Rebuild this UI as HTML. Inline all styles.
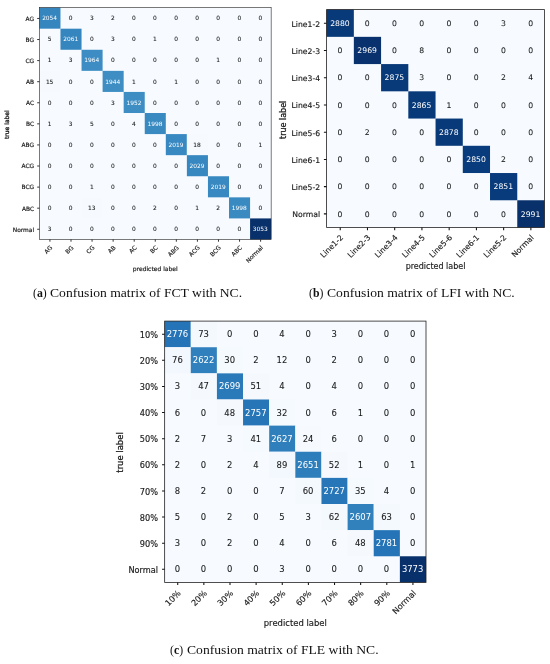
<!DOCTYPE html>
<html><head><meta charset="utf-8"><title>Confusion matrices</title>
<style>
html,body{margin:0;padding:0;background:#fff}
body{width:550px;height:664px;position:relative;overflow:hidden}
svg{position:absolute;left:0;top:0;font-family:"DejaVu Sans","Liberation Sans",sans-serif}
.cap{position:absolute;font-family:"Liberation Serif",serif;font-size:12.4px;color:#111;transform:scaleX(1.09);white-space:nowrap;line-height:1;transform-origin:0 0}
</style></head><body>
<svg width="550" height="664" viewBox="0 0 550 664">
<rect x="39.40" y="7.60" width="231.75" height="231.90" fill="#f7fbff"/>
<rect x="39.40" y="7.60" width="21.07" height="21.08" fill="#3585bf"/>
<rect x="60.47" y="28.68" width="21.07" height="21.08" fill="#3585bf"/>
<rect x="81.54" y="49.76" width="21.07" height="21.08" fill="#3d8dc4"/>
<rect x="39.40" y="70.85" width="21.07" height="21.08" fill="#f6faff"/>
<rect x="102.60" y="70.85" width="21.07" height="21.08" fill="#3e8ec4"/>
<rect x="123.67" y="91.93" width="21.07" height="21.08" fill="#3e8ec4"/>
<rect x="144.74" y="113.01" width="21.07" height="21.08" fill="#3a8ac2"/>
<rect x="165.81" y="134.09" width="21.07" height="21.08" fill="#3888c1"/>
<rect x="186.88" y="134.09" width="21.07" height="21.08" fill="#f6faff"/>
<rect x="186.88" y="155.17" width="21.07" height="21.08" fill="#3787c0"/>
<rect x="207.95" y="176.25" width="21.07" height="21.08" fill="#3888c1"/>
<rect x="81.54" y="197.34" width="21.07" height="21.08" fill="#f6faff"/>
<rect x="229.01" y="197.34" width="21.07" height="21.08" fill="#3a8ac2"/>
<rect x="250.08" y="218.42" width="21.07" height="21.08" fill="#08306b"/>
<g font-size="5.9" text-anchor="middle" stroke-width="0.090">
<text x="49.63" y="20.26" fill="#fff">2054</text>
<text x="70.70" y="20.26" fill="#1a1a1a" stroke="#1a1a1a">0</text>
<text x="91.77" y="20.26" fill="#1a1a1a" stroke="#1a1a1a">3</text>
<text x="112.84" y="20.26" fill="#1a1a1a" stroke="#1a1a1a">2</text>
<text x="133.91" y="20.26" fill="#1a1a1a" stroke="#1a1a1a">0</text>
<text x="154.97" y="20.26" fill="#1a1a1a" stroke="#1a1a1a">0</text>
<text x="176.04" y="20.26" fill="#1a1a1a" stroke="#1a1a1a">0</text>
<text x="197.11" y="20.26" fill="#1a1a1a" stroke="#1a1a1a">0</text>
<text x="218.18" y="20.26" fill="#1a1a1a" stroke="#1a1a1a">0</text>
<text x="239.25" y="20.26" fill="#1a1a1a" stroke="#1a1a1a">0</text>
<text x="260.32" y="20.26" fill="#1a1a1a" stroke="#1a1a1a">0</text>
<text x="49.63" y="41.35" fill="#1a1a1a" stroke="#1a1a1a">5</text>
<text x="70.70" y="41.35" fill="#fff">2061</text>
<text x="91.77" y="41.35" fill="#1a1a1a" stroke="#1a1a1a">0</text>
<text x="112.84" y="41.35" fill="#1a1a1a" stroke="#1a1a1a">3</text>
<text x="133.91" y="41.35" fill="#1a1a1a" stroke="#1a1a1a">0</text>
<text x="154.97" y="41.35" fill="#1a1a1a" stroke="#1a1a1a">1</text>
<text x="176.04" y="41.35" fill="#1a1a1a" stroke="#1a1a1a">0</text>
<text x="197.11" y="41.35" fill="#1a1a1a" stroke="#1a1a1a">0</text>
<text x="218.18" y="41.35" fill="#1a1a1a" stroke="#1a1a1a">0</text>
<text x="239.25" y="41.35" fill="#1a1a1a" stroke="#1a1a1a">0</text>
<text x="260.32" y="41.35" fill="#1a1a1a" stroke="#1a1a1a">0</text>
<text x="49.63" y="62.43" fill="#1a1a1a" stroke="#1a1a1a">1</text>
<text x="70.70" y="62.43" fill="#1a1a1a" stroke="#1a1a1a">3</text>
<text x="91.77" y="62.43" fill="#fff">1964</text>
<text x="112.84" y="62.43" fill="#1a1a1a" stroke="#1a1a1a">0</text>
<text x="133.91" y="62.43" fill="#1a1a1a" stroke="#1a1a1a">0</text>
<text x="154.97" y="62.43" fill="#1a1a1a" stroke="#1a1a1a">0</text>
<text x="176.04" y="62.43" fill="#1a1a1a" stroke="#1a1a1a">0</text>
<text x="197.11" y="62.43" fill="#1a1a1a" stroke="#1a1a1a">0</text>
<text x="218.18" y="62.43" fill="#1a1a1a" stroke="#1a1a1a">1</text>
<text x="239.25" y="62.43" fill="#1a1a1a" stroke="#1a1a1a">0</text>
<text x="260.32" y="62.43" fill="#1a1a1a" stroke="#1a1a1a">0</text>
<text x="49.63" y="83.51" fill="#1a1a1a" stroke="#1a1a1a">15</text>
<text x="70.70" y="83.51" fill="#1a1a1a" stroke="#1a1a1a">0</text>
<text x="91.77" y="83.51" fill="#1a1a1a" stroke="#1a1a1a">0</text>
<text x="112.84" y="83.51" fill="#fff">1944</text>
<text x="133.91" y="83.51" fill="#1a1a1a" stroke="#1a1a1a">1</text>
<text x="154.97" y="83.51" fill="#1a1a1a" stroke="#1a1a1a">0</text>
<text x="176.04" y="83.51" fill="#1a1a1a" stroke="#1a1a1a">1</text>
<text x="197.11" y="83.51" fill="#1a1a1a" stroke="#1a1a1a">0</text>
<text x="218.18" y="83.51" fill="#1a1a1a" stroke="#1a1a1a">0</text>
<text x="239.25" y="83.51" fill="#1a1a1a" stroke="#1a1a1a">0</text>
<text x="260.32" y="83.51" fill="#1a1a1a" stroke="#1a1a1a">0</text>
<text x="49.63" y="104.59" fill="#1a1a1a" stroke="#1a1a1a">0</text>
<text x="70.70" y="104.59" fill="#1a1a1a" stroke="#1a1a1a">0</text>
<text x="91.77" y="104.59" fill="#1a1a1a" stroke="#1a1a1a">0</text>
<text x="112.84" y="104.59" fill="#1a1a1a" stroke="#1a1a1a">3</text>
<text x="133.91" y="104.59" fill="#fff">1952</text>
<text x="154.97" y="104.59" fill="#1a1a1a" stroke="#1a1a1a">0</text>
<text x="176.04" y="104.59" fill="#1a1a1a" stroke="#1a1a1a">0</text>
<text x="197.11" y="104.59" fill="#1a1a1a" stroke="#1a1a1a">0</text>
<text x="218.18" y="104.59" fill="#1a1a1a" stroke="#1a1a1a">0</text>
<text x="239.25" y="104.59" fill="#1a1a1a" stroke="#1a1a1a">0</text>
<text x="260.32" y="104.59" fill="#1a1a1a" stroke="#1a1a1a">0</text>
<text x="49.63" y="125.67" fill="#1a1a1a" stroke="#1a1a1a">1</text>
<text x="70.70" y="125.67" fill="#1a1a1a" stroke="#1a1a1a">3</text>
<text x="91.77" y="125.67" fill="#1a1a1a" stroke="#1a1a1a">5</text>
<text x="112.84" y="125.67" fill="#1a1a1a" stroke="#1a1a1a">0</text>
<text x="133.91" y="125.67" fill="#1a1a1a" stroke="#1a1a1a">4</text>
<text x="154.97" y="125.67" fill="#fff">1998</text>
<text x="176.04" y="125.67" fill="#1a1a1a" stroke="#1a1a1a">0</text>
<text x="197.11" y="125.67" fill="#1a1a1a" stroke="#1a1a1a">0</text>
<text x="218.18" y="125.67" fill="#1a1a1a" stroke="#1a1a1a">0</text>
<text x="239.25" y="125.67" fill="#1a1a1a" stroke="#1a1a1a">0</text>
<text x="260.32" y="125.67" fill="#1a1a1a" stroke="#1a1a1a">0</text>
<text x="49.63" y="146.76" fill="#1a1a1a" stroke="#1a1a1a">0</text>
<text x="70.70" y="146.76" fill="#1a1a1a" stroke="#1a1a1a">0</text>
<text x="91.77" y="146.76" fill="#1a1a1a" stroke="#1a1a1a">0</text>
<text x="112.84" y="146.76" fill="#1a1a1a" stroke="#1a1a1a">0</text>
<text x="133.91" y="146.76" fill="#1a1a1a" stroke="#1a1a1a">0</text>
<text x="154.97" y="146.76" fill="#1a1a1a" stroke="#1a1a1a">0</text>
<text x="176.04" y="146.76" fill="#fff">2019</text>
<text x="197.11" y="146.76" fill="#1a1a1a" stroke="#1a1a1a">18</text>
<text x="218.18" y="146.76" fill="#1a1a1a" stroke="#1a1a1a">0</text>
<text x="239.25" y="146.76" fill="#1a1a1a" stroke="#1a1a1a">0</text>
<text x="260.32" y="146.76" fill="#1a1a1a" stroke="#1a1a1a">1</text>
<text x="49.63" y="167.84" fill="#1a1a1a" stroke="#1a1a1a">0</text>
<text x="70.70" y="167.84" fill="#1a1a1a" stroke="#1a1a1a">0</text>
<text x="91.77" y="167.84" fill="#1a1a1a" stroke="#1a1a1a">0</text>
<text x="112.84" y="167.84" fill="#1a1a1a" stroke="#1a1a1a">0</text>
<text x="133.91" y="167.84" fill="#1a1a1a" stroke="#1a1a1a">0</text>
<text x="154.97" y="167.84" fill="#1a1a1a" stroke="#1a1a1a">0</text>
<text x="176.04" y="167.84" fill="#1a1a1a" stroke="#1a1a1a">0</text>
<text x="197.11" y="167.84" fill="#fff">2029</text>
<text x="218.18" y="167.84" fill="#1a1a1a" stroke="#1a1a1a">0</text>
<text x="239.25" y="167.84" fill="#1a1a1a" stroke="#1a1a1a">0</text>
<text x="260.32" y="167.84" fill="#1a1a1a" stroke="#1a1a1a">0</text>
<text x="49.63" y="188.92" fill="#1a1a1a" stroke="#1a1a1a">0</text>
<text x="70.70" y="188.92" fill="#1a1a1a" stroke="#1a1a1a">0</text>
<text x="91.77" y="188.92" fill="#1a1a1a" stroke="#1a1a1a">1</text>
<text x="112.84" y="188.92" fill="#1a1a1a" stroke="#1a1a1a">0</text>
<text x="133.91" y="188.92" fill="#1a1a1a" stroke="#1a1a1a">0</text>
<text x="154.97" y="188.92" fill="#1a1a1a" stroke="#1a1a1a">0</text>
<text x="176.04" y="188.92" fill="#1a1a1a" stroke="#1a1a1a">0</text>
<text x="197.11" y="188.92" fill="#1a1a1a" stroke="#1a1a1a">0</text>
<text x="218.18" y="188.92" fill="#fff">2019</text>
<text x="239.25" y="188.92" fill="#1a1a1a" stroke="#1a1a1a">0</text>
<text x="260.32" y="188.92" fill="#1a1a1a" stroke="#1a1a1a">0</text>
<text x="49.63" y="210.00" fill="#1a1a1a" stroke="#1a1a1a">0</text>
<text x="70.70" y="210.00" fill="#1a1a1a" stroke="#1a1a1a">0</text>
<text x="91.77" y="210.00" fill="#1a1a1a" stroke="#1a1a1a">13</text>
<text x="112.84" y="210.00" fill="#1a1a1a" stroke="#1a1a1a">0</text>
<text x="133.91" y="210.00" fill="#1a1a1a" stroke="#1a1a1a">0</text>
<text x="154.97" y="210.00" fill="#1a1a1a" stroke="#1a1a1a">2</text>
<text x="176.04" y="210.00" fill="#1a1a1a" stroke="#1a1a1a">0</text>
<text x="197.11" y="210.00" fill="#1a1a1a" stroke="#1a1a1a">1</text>
<text x="218.18" y="210.00" fill="#1a1a1a" stroke="#1a1a1a">2</text>
<text x="239.25" y="210.00" fill="#fff">1998</text>
<text x="260.32" y="210.00" fill="#1a1a1a" stroke="#1a1a1a">0</text>
<text x="49.63" y="231.08" fill="#1a1a1a" stroke="#1a1a1a">3</text>
<text x="70.70" y="231.08" fill="#1a1a1a" stroke="#1a1a1a">0</text>
<text x="91.77" y="231.08" fill="#1a1a1a" stroke="#1a1a1a">0</text>
<text x="112.84" y="231.08" fill="#1a1a1a" stroke="#1a1a1a">0</text>
<text x="133.91" y="231.08" fill="#1a1a1a" stroke="#1a1a1a">0</text>
<text x="154.97" y="231.08" fill="#1a1a1a" stroke="#1a1a1a">0</text>
<text x="176.04" y="231.08" fill="#1a1a1a" stroke="#1a1a1a">0</text>
<text x="197.11" y="231.08" fill="#1a1a1a" stroke="#1a1a1a">0</text>
<text x="218.18" y="231.08" fill="#1a1a1a" stroke="#1a1a1a">0</text>
<text x="239.25" y="231.08" fill="#1a1a1a" stroke="#1a1a1a">0</text>
<text x="260.32" y="231.08" fill="#fff">3053</text>
</g>
<rect x="39.40" y="7.60" width="231.75" height="231.90" fill="none" stroke="#222" stroke-width="0.6"/>
<path d="M37.20 18.44H39.40M49.93 239.50V241.70M37.20 39.52H39.40M71.00 239.50V241.70M37.20 60.60H39.40M92.07 239.50V241.70M37.20 81.69H39.40M113.14 239.50V241.70M37.20 102.77H39.40M134.21 239.50V241.70M37.20 123.85H39.40M155.27 239.50V241.70M37.20 144.93H39.40M176.34 239.50V241.70M37.20 166.01H39.40M197.41 239.50V241.70M37.20 187.10H39.40M218.48 239.50V241.70M37.20 208.18H39.40M239.55 239.50V241.70M37.20 229.26H39.40M260.62 239.50V241.70" stroke="#111" stroke-width="0.85" fill="none"/>
<g font-size="5.9" fill="#1a1a1a" stroke="#1a1a1a" stroke-width="0.18">
<text x="34.10" y="20.76" text-anchor="end">AG</text>
<text transform="translate(52.81 248.14) rotate(-45)" text-anchor="end">AG</text>
<text x="34.10" y="41.85" text-anchor="end">BG</text>
<text transform="translate(73.88 248.14) rotate(-45)" text-anchor="end">BG</text>
<text x="34.10" y="62.93" text-anchor="end">CG</text>
<text transform="translate(94.95 248.14) rotate(-45)" text-anchor="end">CG</text>
<text x="34.10" y="84.01" text-anchor="end">AB</text>
<text transform="translate(116.01 248.14) rotate(-45)" text-anchor="end">AB</text>
<text x="34.10" y="105.09" text-anchor="end">AC</text>
<text transform="translate(137.08 248.14) rotate(-45)" text-anchor="end">AC</text>
<text x="34.10" y="126.17" text-anchor="end">BC</text>
<text transform="translate(158.15 248.14) rotate(-45)" text-anchor="end">BC</text>
<text x="34.10" y="147.26" text-anchor="end">ABG</text>
<text transform="translate(179.22 248.14) rotate(-45)" text-anchor="end">ABG</text>
<text x="34.10" y="168.34" text-anchor="end">ACG</text>
<text transform="translate(200.29 248.14) rotate(-45)" text-anchor="end">ACG</text>
<text x="34.10" y="189.42" text-anchor="end">BCG</text>
<text transform="translate(221.35 248.14) rotate(-45)" text-anchor="end">BCG</text>
<text x="34.10" y="210.50" text-anchor="end">ABC</text>
<text transform="translate(242.42 248.14) rotate(-45)" text-anchor="end">ABC</text>
<text x="34.10" y="231.58" text-anchor="end">Normal</text>
<text transform="translate(263.49 248.14) rotate(-45)" text-anchor="end">Normal</text>
</g>
<text font-size="6.0" fill="#1a1a1a" stroke="#1a1a1a" stroke-width="0.18" text-anchor="middle" x="155.27" y="270.6">predicted label</text>
<text font-size="6.0" fill="#1a1a1a" stroke="#1a1a1a" stroke-width="0.324" text-anchor="middle" transform="translate(9.3 124.65) rotate(-90)">true label</text>
<rect x="326.60" y="9.60" width="217.90" height="217.90" fill="#f7fbff"/>
<rect x="326.60" y="9.60" width="27.24" height="27.24" fill="#083979"/>
<rect x="353.84" y="36.84" width="27.24" height="27.24" fill="#08316d"/>
<rect x="381.08" y="64.08" width="27.24" height="27.24" fill="#083979"/>
<rect x="408.31" y="91.31" width="27.24" height="27.24" fill="#083a7a"/>
<rect x="435.55" y="118.55" width="27.24" height="27.24" fill="#083979"/>
<rect x="462.79" y="145.79" width="27.24" height="27.24" fill="#083c7d"/>
<rect x="490.02" y="173.03" width="27.24" height="27.24" fill="#083b7c"/>
<rect x="517.26" y="200.26" width="27.24" height="27.24" fill="#08306b"/>
<g font-size="7.7" text-anchor="middle" stroke-width="0.075">
<text x="339.92" y="25.99" fill="#fff">2880</text>
<text x="367.16" y="25.99" fill="#1a1a1a" stroke="#1a1a1a">0</text>
<text x="394.39" y="25.99" fill="#1a1a1a" stroke="#1a1a1a">0</text>
<text x="421.63" y="25.99" fill="#1a1a1a" stroke="#1a1a1a">0</text>
<text x="448.87" y="25.99" fill="#1a1a1a" stroke="#1a1a1a">0</text>
<text x="476.11" y="25.99" fill="#1a1a1a" stroke="#1a1a1a">0</text>
<text x="503.34" y="25.99" fill="#1a1a1a" stroke="#1a1a1a">3</text>
<text x="530.58" y="25.99" fill="#1a1a1a" stroke="#1a1a1a">0</text>
<text x="339.92" y="53.23" fill="#1a1a1a" stroke="#1a1a1a">0</text>
<text x="367.16" y="53.23" fill="#fff">2969</text>
<text x="394.39" y="53.23" fill="#1a1a1a" stroke="#1a1a1a">0</text>
<text x="421.63" y="53.23" fill="#1a1a1a" stroke="#1a1a1a">8</text>
<text x="448.87" y="53.23" fill="#1a1a1a" stroke="#1a1a1a">0</text>
<text x="476.11" y="53.23" fill="#1a1a1a" stroke="#1a1a1a">0</text>
<text x="503.34" y="53.23" fill="#1a1a1a" stroke="#1a1a1a">0</text>
<text x="530.58" y="53.23" fill="#1a1a1a" stroke="#1a1a1a">0</text>
<text x="339.92" y="80.47" fill="#1a1a1a" stroke="#1a1a1a">0</text>
<text x="367.16" y="80.47" fill="#1a1a1a" stroke="#1a1a1a">0</text>
<text x="394.39" y="80.47" fill="#fff">2875</text>
<text x="421.63" y="80.47" fill="#1a1a1a" stroke="#1a1a1a">3</text>
<text x="448.87" y="80.47" fill="#1a1a1a" stroke="#1a1a1a">0</text>
<text x="476.11" y="80.47" fill="#1a1a1a" stroke="#1a1a1a">0</text>
<text x="503.34" y="80.47" fill="#1a1a1a" stroke="#1a1a1a">2</text>
<text x="530.58" y="80.47" fill="#1a1a1a" stroke="#1a1a1a">4</text>
<text x="339.92" y="107.70" fill="#1a1a1a" stroke="#1a1a1a">0</text>
<text x="367.16" y="107.70" fill="#1a1a1a" stroke="#1a1a1a">0</text>
<text x="394.39" y="107.70" fill="#1a1a1a" stroke="#1a1a1a">0</text>
<text x="421.63" y="107.70" fill="#fff">2865</text>
<text x="448.87" y="107.70" fill="#1a1a1a" stroke="#1a1a1a">1</text>
<text x="476.11" y="107.70" fill="#1a1a1a" stroke="#1a1a1a">0</text>
<text x="503.34" y="107.70" fill="#1a1a1a" stroke="#1a1a1a">0</text>
<text x="530.58" y="107.70" fill="#1a1a1a" stroke="#1a1a1a">0</text>
<text x="339.92" y="134.94" fill="#1a1a1a" stroke="#1a1a1a">0</text>
<text x="367.16" y="134.94" fill="#1a1a1a" stroke="#1a1a1a">2</text>
<text x="394.39" y="134.94" fill="#1a1a1a" stroke="#1a1a1a">0</text>
<text x="421.63" y="134.94" fill="#1a1a1a" stroke="#1a1a1a">0</text>
<text x="448.87" y="134.94" fill="#fff">2878</text>
<text x="476.11" y="134.94" fill="#1a1a1a" stroke="#1a1a1a">0</text>
<text x="503.34" y="134.94" fill="#1a1a1a" stroke="#1a1a1a">0</text>
<text x="530.58" y="134.94" fill="#1a1a1a" stroke="#1a1a1a">0</text>
<text x="339.92" y="162.18" fill="#1a1a1a" stroke="#1a1a1a">0</text>
<text x="367.16" y="162.18" fill="#1a1a1a" stroke="#1a1a1a">0</text>
<text x="394.39" y="162.18" fill="#1a1a1a" stroke="#1a1a1a">0</text>
<text x="421.63" y="162.18" fill="#1a1a1a" stroke="#1a1a1a">0</text>
<text x="448.87" y="162.18" fill="#1a1a1a" stroke="#1a1a1a">0</text>
<text x="476.11" y="162.18" fill="#fff">2850</text>
<text x="503.34" y="162.18" fill="#1a1a1a" stroke="#1a1a1a">2</text>
<text x="530.58" y="162.18" fill="#1a1a1a" stroke="#1a1a1a">0</text>
<text x="339.92" y="189.42" fill="#1a1a1a" stroke="#1a1a1a">0</text>
<text x="367.16" y="189.42" fill="#1a1a1a" stroke="#1a1a1a">0</text>
<text x="394.39" y="189.42" fill="#1a1a1a" stroke="#1a1a1a">0</text>
<text x="421.63" y="189.42" fill="#1a1a1a" stroke="#1a1a1a">0</text>
<text x="448.87" y="189.42" fill="#1a1a1a" stroke="#1a1a1a">0</text>
<text x="476.11" y="189.42" fill="#1a1a1a" stroke="#1a1a1a">0</text>
<text x="503.34" y="189.42" fill="#fff">2851</text>
<text x="530.58" y="189.42" fill="#1a1a1a" stroke="#1a1a1a">0</text>
<text x="339.92" y="216.65" fill="#1a1a1a" stroke="#1a1a1a">0</text>
<text x="367.16" y="216.65" fill="#1a1a1a" stroke="#1a1a1a">0</text>
<text x="394.39" y="216.65" fill="#1a1a1a" stroke="#1a1a1a">0</text>
<text x="421.63" y="216.65" fill="#1a1a1a" stroke="#1a1a1a">0</text>
<text x="448.87" y="216.65" fill="#1a1a1a" stroke="#1a1a1a">0</text>
<text x="476.11" y="216.65" fill="#1a1a1a" stroke="#1a1a1a">0</text>
<text x="503.34" y="216.65" fill="#1a1a1a" stroke="#1a1a1a">0</text>
<text x="530.58" y="216.65" fill="#fff">2991</text>
</g>
<rect x="326.60" y="9.60" width="217.90" height="217.90" fill="none" stroke="#222" stroke-width="0.8"/>
<path d="M323.90 23.22H326.60M340.22 227.50V230.20M323.90 50.46H326.60M367.46 227.50V230.20M323.90 77.69H326.60M394.69 227.50V230.20M323.90 104.93H326.60M421.93 227.50V230.20M323.90 132.17H326.60M449.17 227.50V230.20M323.90 159.41H326.60M476.41 227.50V230.20M323.90 186.64H326.60M503.64 227.50V230.20M323.90 213.88H326.60M530.88 227.50V230.20" stroke="#111" stroke-width="1.05" fill="none"/>
<g font-size="7.7" fill="#1a1a1a" stroke="#1a1a1a" stroke-width="0.15">
<text x="320.10" y="26.69" text-anchor="end">Line1-2</text>
<text transform="translate(343.64 238.13) rotate(-45)" text-anchor="end">Line1-2</text>
<text x="320.10" y="53.93" text-anchor="end">Line2-3</text>
<text transform="translate(370.88 238.13) rotate(-45)" text-anchor="end">Line2-3</text>
<text x="320.10" y="81.17" text-anchor="end">Line3-4</text>
<text transform="translate(398.12 238.13) rotate(-45)" text-anchor="end">Line3-4</text>
<text x="320.10" y="108.40" text-anchor="end">Line4-5</text>
<text transform="translate(425.36 238.13) rotate(-45)" text-anchor="end">Line4-5</text>
<text x="320.10" y="135.64" text-anchor="end">Line5-6</text>
<text transform="translate(452.59 238.13) rotate(-45)" text-anchor="end">Line5-6</text>
<text x="320.10" y="162.88" text-anchor="end">Line6-1</text>
<text transform="translate(479.83 238.13) rotate(-45)" text-anchor="end">Line6-1</text>
<text x="320.10" y="190.12" text-anchor="end">Line5-2</text>
<text transform="translate(507.07 238.13) rotate(-45)" text-anchor="end">Line5-2</text>
<text x="320.10" y="217.35" text-anchor="end">Normal</text>
<text transform="translate(534.31 238.13) rotate(-45)" text-anchor="end">Normal</text>
</g>
<text font-size="8.0" fill="#1a1a1a" stroke="#1a1a1a" stroke-width="0.15" text-anchor="middle" x="435.55" y="268.8">predicted label</text>
<text font-size="8.0" fill="#1a1a1a" stroke="#1a1a1a" stroke-width="0.270" text-anchor="middle" transform="translate(286 119.85) rotate(-90)">true label</text>
<rect x="164.65" y="321.10" width="261.35" height="261.30" fill="#f7fbff"/>
<rect x="164.65" y="321.10" width="26.14" height="26.13" fill="#2474b7"/>
<rect x="190.78" y="321.10" width="26.14" height="26.13" fill="#f4f9fe"/>
<rect x="164.65" y="347.23" width="26.14" height="26.13" fill="#f3f8fe"/>
<rect x="190.78" y="347.23" width="26.14" height="26.13" fill="#3080bd"/>
<rect x="216.92" y="347.23" width="26.14" height="26.13" fill="#f5fafe"/>
<rect x="190.78" y="373.36" width="26.14" height="26.13" fill="#f5f9fe"/>
<rect x="216.92" y="373.36" width="26.14" height="26.13" fill="#2a7ab9"/>
<rect x="243.06" y="373.36" width="26.14" height="26.13" fill="#f5f9fe"/>
<rect x="216.92" y="399.49" width="26.14" height="26.13" fill="#f5f9fe"/>
<rect x="243.06" y="399.49" width="26.14" height="26.13" fill="#2575b7"/>
<rect x="269.19" y="399.49" width="26.14" height="26.13" fill="#f5fafe"/>
<rect x="243.06" y="425.62" width="26.14" height="26.13" fill="#f5fafe"/>
<rect x="269.19" y="425.62" width="26.14" height="26.13" fill="#2f7fbc"/>
<rect x="295.33" y="425.62" width="26.14" height="26.13" fill="#f6faff"/>
<rect x="269.19" y="451.75" width="26.14" height="26.13" fill="#f2f8fd"/>
<rect x="295.33" y="451.75" width="26.14" height="26.13" fill="#2e7ebc"/>
<rect x="321.46" y="451.75" width="26.14" height="26.13" fill="#f5f9fe"/>
<rect x="295.33" y="477.88" width="26.14" height="26.13" fill="#f4f9fe"/>
<rect x="321.46" y="477.88" width="26.14" height="26.13" fill="#2777b8"/>
<rect x="347.60" y="477.88" width="26.14" height="26.13" fill="#f5fafe"/>
<rect x="321.46" y="504.01" width="26.14" height="26.13" fill="#f4f9fe"/>
<rect x="347.60" y="504.01" width="26.14" height="26.13" fill="#3181bd"/>
<rect x="373.73" y="504.01" width="26.14" height="26.13" fill="#f4f9fe"/>
<rect x="347.60" y="530.14" width="26.14" height="26.13" fill="#f5f9fe"/>
<rect x="373.73" y="530.14" width="26.14" height="26.13" fill="#2474b7"/>
<rect x="399.87" y="556.27" width="26.14" height="26.13" fill="#08306b"/>
<g font-size="8.45" text-anchor="middle" stroke-width="0.075">
<text x="177.42" y="337.21" fill="#fff">2776</text>
<text x="203.55" y="337.21" fill="#1a1a1a" stroke="#1a1a1a">73</text>
<text x="229.69" y="337.21" fill="#1a1a1a" stroke="#1a1a1a">0</text>
<text x="255.82" y="337.21" fill="#1a1a1a" stroke="#1a1a1a">0</text>
<text x="281.96" y="337.21" fill="#1a1a1a" stroke="#1a1a1a">4</text>
<text x="308.09" y="337.21" fill="#1a1a1a" stroke="#1a1a1a">0</text>
<text x="334.23" y="337.21" fill="#1a1a1a" stroke="#1a1a1a">3</text>
<text x="360.36" y="337.21" fill="#1a1a1a" stroke="#1a1a1a">0</text>
<text x="386.50" y="337.21" fill="#1a1a1a" stroke="#1a1a1a">0</text>
<text x="412.63" y="337.21" fill="#1a1a1a" stroke="#1a1a1a">0</text>
<text x="177.42" y="363.34" fill="#1a1a1a" stroke="#1a1a1a">76</text>
<text x="203.55" y="363.34" fill="#fff">2622</text>
<text x="229.69" y="363.34" fill="#1a1a1a" stroke="#1a1a1a">30</text>
<text x="255.82" y="363.34" fill="#1a1a1a" stroke="#1a1a1a">2</text>
<text x="281.96" y="363.34" fill="#1a1a1a" stroke="#1a1a1a">12</text>
<text x="308.09" y="363.34" fill="#1a1a1a" stroke="#1a1a1a">0</text>
<text x="334.23" y="363.34" fill="#1a1a1a" stroke="#1a1a1a">2</text>
<text x="360.36" y="363.34" fill="#1a1a1a" stroke="#1a1a1a">0</text>
<text x="386.50" y="363.34" fill="#1a1a1a" stroke="#1a1a1a">0</text>
<text x="412.63" y="363.34" fill="#1a1a1a" stroke="#1a1a1a">0</text>
<text x="177.42" y="389.47" fill="#1a1a1a" stroke="#1a1a1a">3</text>
<text x="203.55" y="389.47" fill="#1a1a1a" stroke="#1a1a1a">47</text>
<text x="229.69" y="389.47" fill="#fff">2699</text>
<text x="255.82" y="389.47" fill="#1a1a1a" stroke="#1a1a1a">51</text>
<text x="281.96" y="389.47" fill="#1a1a1a" stroke="#1a1a1a">4</text>
<text x="308.09" y="389.47" fill="#1a1a1a" stroke="#1a1a1a">0</text>
<text x="334.23" y="389.47" fill="#1a1a1a" stroke="#1a1a1a">4</text>
<text x="360.36" y="389.47" fill="#1a1a1a" stroke="#1a1a1a">0</text>
<text x="386.50" y="389.47" fill="#1a1a1a" stroke="#1a1a1a">0</text>
<text x="412.63" y="389.47" fill="#1a1a1a" stroke="#1a1a1a">0</text>
<text x="177.42" y="415.60" fill="#1a1a1a" stroke="#1a1a1a">6</text>
<text x="203.55" y="415.60" fill="#1a1a1a" stroke="#1a1a1a">0</text>
<text x="229.69" y="415.60" fill="#1a1a1a" stroke="#1a1a1a">48</text>
<text x="255.82" y="415.60" fill="#fff">2757</text>
<text x="281.96" y="415.60" fill="#1a1a1a" stroke="#1a1a1a">32</text>
<text x="308.09" y="415.60" fill="#1a1a1a" stroke="#1a1a1a">0</text>
<text x="334.23" y="415.60" fill="#1a1a1a" stroke="#1a1a1a">6</text>
<text x="360.36" y="415.60" fill="#1a1a1a" stroke="#1a1a1a">1</text>
<text x="386.50" y="415.60" fill="#1a1a1a" stroke="#1a1a1a">0</text>
<text x="412.63" y="415.60" fill="#1a1a1a" stroke="#1a1a1a">0</text>
<text x="177.42" y="441.73" fill="#1a1a1a" stroke="#1a1a1a">2</text>
<text x="203.55" y="441.73" fill="#1a1a1a" stroke="#1a1a1a">7</text>
<text x="229.69" y="441.73" fill="#1a1a1a" stroke="#1a1a1a">3</text>
<text x="255.82" y="441.73" fill="#1a1a1a" stroke="#1a1a1a">41</text>
<text x="281.96" y="441.73" fill="#fff">2627</text>
<text x="308.09" y="441.73" fill="#1a1a1a" stroke="#1a1a1a">24</text>
<text x="334.23" y="441.73" fill="#1a1a1a" stroke="#1a1a1a">6</text>
<text x="360.36" y="441.73" fill="#1a1a1a" stroke="#1a1a1a">0</text>
<text x="386.50" y="441.73" fill="#1a1a1a" stroke="#1a1a1a">0</text>
<text x="412.63" y="441.73" fill="#1a1a1a" stroke="#1a1a1a">0</text>
<text x="177.42" y="467.86" fill="#1a1a1a" stroke="#1a1a1a">2</text>
<text x="203.55" y="467.86" fill="#1a1a1a" stroke="#1a1a1a">0</text>
<text x="229.69" y="467.86" fill="#1a1a1a" stroke="#1a1a1a">2</text>
<text x="255.82" y="467.86" fill="#1a1a1a" stroke="#1a1a1a">4</text>
<text x="281.96" y="467.86" fill="#1a1a1a" stroke="#1a1a1a">89</text>
<text x="308.09" y="467.86" fill="#fff">2651</text>
<text x="334.23" y="467.86" fill="#1a1a1a" stroke="#1a1a1a">52</text>
<text x="360.36" y="467.86" fill="#1a1a1a" stroke="#1a1a1a">1</text>
<text x="386.50" y="467.86" fill="#1a1a1a" stroke="#1a1a1a">0</text>
<text x="412.63" y="467.86" fill="#1a1a1a" stroke="#1a1a1a">1</text>
<text x="177.42" y="493.99" fill="#1a1a1a" stroke="#1a1a1a">8</text>
<text x="203.55" y="493.99" fill="#1a1a1a" stroke="#1a1a1a">2</text>
<text x="229.69" y="493.99" fill="#1a1a1a" stroke="#1a1a1a">0</text>
<text x="255.82" y="493.99" fill="#1a1a1a" stroke="#1a1a1a">0</text>
<text x="281.96" y="493.99" fill="#1a1a1a" stroke="#1a1a1a">7</text>
<text x="308.09" y="493.99" fill="#1a1a1a" stroke="#1a1a1a">60</text>
<text x="334.23" y="493.99" fill="#fff">2727</text>
<text x="360.36" y="493.99" fill="#1a1a1a" stroke="#1a1a1a">35</text>
<text x="386.50" y="493.99" fill="#1a1a1a" stroke="#1a1a1a">4</text>
<text x="412.63" y="493.99" fill="#1a1a1a" stroke="#1a1a1a">0</text>
<text x="177.42" y="520.12" fill="#1a1a1a" stroke="#1a1a1a">5</text>
<text x="203.55" y="520.12" fill="#1a1a1a" stroke="#1a1a1a">0</text>
<text x="229.69" y="520.12" fill="#1a1a1a" stroke="#1a1a1a">2</text>
<text x="255.82" y="520.12" fill="#1a1a1a" stroke="#1a1a1a">0</text>
<text x="281.96" y="520.12" fill="#1a1a1a" stroke="#1a1a1a">5</text>
<text x="308.09" y="520.12" fill="#1a1a1a" stroke="#1a1a1a">3</text>
<text x="334.23" y="520.12" fill="#1a1a1a" stroke="#1a1a1a">62</text>
<text x="360.36" y="520.12" fill="#fff">2607</text>
<text x="386.50" y="520.12" fill="#1a1a1a" stroke="#1a1a1a">63</text>
<text x="412.63" y="520.12" fill="#1a1a1a" stroke="#1a1a1a">0</text>
<text x="177.42" y="546.25" fill="#1a1a1a" stroke="#1a1a1a">3</text>
<text x="203.55" y="546.25" fill="#1a1a1a" stroke="#1a1a1a">0</text>
<text x="229.69" y="546.25" fill="#1a1a1a" stroke="#1a1a1a">2</text>
<text x="255.82" y="546.25" fill="#1a1a1a" stroke="#1a1a1a">0</text>
<text x="281.96" y="546.25" fill="#1a1a1a" stroke="#1a1a1a">4</text>
<text x="308.09" y="546.25" fill="#1a1a1a" stroke="#1a1a1a">0</text>
<text x="334.23" y="546.25" fill="#1a1a1a" stroke="#1a1a1a">6</text>
<text x="360.36" y="546.25" fill="#1a1a1a" stroke="#1a1a1a">48</text>
<text x="386.50" y="546.25" fill="#fff">2781</text>
<text x="412.63" y="546.25" fill="#1a1a1a" stroke="#1a1a1a">0</text>
<text x="177.42" y="572.38" fill="#1a1a1a" stroke="#1a1a1a">0</text>
<text x="203.55" y="572.38" fill="#1a1a1a" stroke="#1a1a1a">0</text>
<text x="229.69" y="572.38" fill="#1a1a1a" stroke="#1a1a1a">0</text>
<text x="255.82" y="572.38" fill="#1a1a1a" stroke="#1a1a1a">0</text>
<text x="281.96" y="572.38" fill="#1a1a1a" stroke="#1a1a1a">3</text>
<text x="308.09" y="572.38" fill="#1a1a1a" stroke="#1a1a1a">0</text>
<text x="334.23" y="572.38" fill="#1a1a1a" stroke="#1a1a1a">0</text>
<text x="360.36" y="572.38" fill="#1a1a1a" stroke="#1a1a1a">0</text>
<text x="386.50" y="572.38" fill="#1a1a1a" stroke="#1a1a1a">0</text>
<text x="412.63" y="572.38" fill="#fff">3773</text>
</g>
<rect x="164.65" y="321.10" width="261.35" height="261.30" fill="none" stroke="#222" stroke-width="0.8"/>
<path d="M162.05 334.17H164.65M177.72 582.40V585.00M162.05 360.30H164.65M203.85 582.40V585.00M162.05 386.43H164.65M229.99 582.40V585.00M162.05 412.56H164.65M256.12 582.40V585.00M162.05 438.69H164.65M282.26 582.40V585.00M162.05 464.81H164.65M308.39 582.40V585.00M162.05 490.94H164.65M334.53 582.40V585.00M162.05 517.08H164.65M360.66 582.40V585.00M162.05 543.20H164.65M386.80 582.40V585.00M162.05 569.34H164.65M412.93 582.40V585.00" stroke="#111" stroke-width="1.05" fill="none"/>
<g font-size="8.2" fill="#1a1a1a" stroke="#1a1a1a" stroke-width="0.15">
<text x="158.05" y="337.82" text-anchor="end">10%</text>
<text transform="translate(181.37 593.71) rotate(-45)" text-anchor="end">10%</text>
<text x="158.05" y="363.95" text-anchor="end">20%</text>
<text transform="translate(207.50 593.71) rotate(-45)" text-anchor="end">20%</text>
<text x="158.05" y="390.08" text-anchor="end">30%</text>
<text transform="translate(233.64 593.71) rotate(-45)" text-anchor="end">30%</text>
<text x="158.05" y="416.21" text-anchor="end">40%</text>
<text transform="translate(259.77 593.71) rotate(-45)" text-anchor="end">40%</text>
<text x="158.05" y="442.34" text-anchor="end">50%</text>
<text transform="translate(285.91 593.71) rotate(-45)" text-anchor="end">50%</text>
<text x="158.05" y="468.47" text-anchor="end">60%</text>
<text transform="translate(312.04 593.71) rotate(-45)" text-anchor="end">60%</text>
<text x="158.05" y="494.60" text-anchor="end">70%</text>
<text transform="translate(338.18 593.71) rotate(-45)" text-anchor="end">70%</text>
<text x="158.05" y="520.73" text-anchor="end">80%</text>
<text transform="translate(364.31 593.71) rotate(-45)" text-anchor="end">80%</text>
<text x="158.05" y="546.86" text-anchor="end">90%</text>
<text transform="translate(390.45 593.71) rotate(-45)" text-anchor="end">90%</text>
<text x="158.05" y="572.99" text-anchor="end">Normal</text>
<text transform="translate(416.58 593.71) rotate(-45)" text-anchor="end">Normal</text>
</g>
<text font-size="8.45" fill="#1a1a1a" stroke="#1a1a1a" stroke-width="0.15" text-anchor="middle" x="295.32" y="625.7">predicted label</text>
<text font-size="8.45" fill="#1a1a1a" stroke="#1a1a1a" stroke-width="0.270" text-anchor="middle" transform="translate(123.1 452.45) rotate(-90)">true label</text>
</svg>
<div class="cap" style="left:32.55px;top:287.30px;transform:scaleX(0.95)">(<b>a</b>)</div><div class="cap" id="ca" style="left:49.85px;top:287.30px;transform:scaleX(1.1)">Confusion matrix of FCT with NC.</div>
<div class="cap" style="left:308.55px;top:287.30px;transform:scaleX(0.95)">(<b>b</b>)</div><div class="cap" id="cb" style="left:327.30px;top:287.30px;transform:scaleX(1.1)">Confusion matrix of LFI with NC.</div>
<div class="cap" style="left:170.45px;top:643.90px;transform:scaleX(0.95)">(<b>c</b>)</div><div class="cap" id="cc" style="left:187.10px;top:643.90px;transform:scaleX(1.1)">Confusion matrix of FLE with NC.</div>

</body></html>
